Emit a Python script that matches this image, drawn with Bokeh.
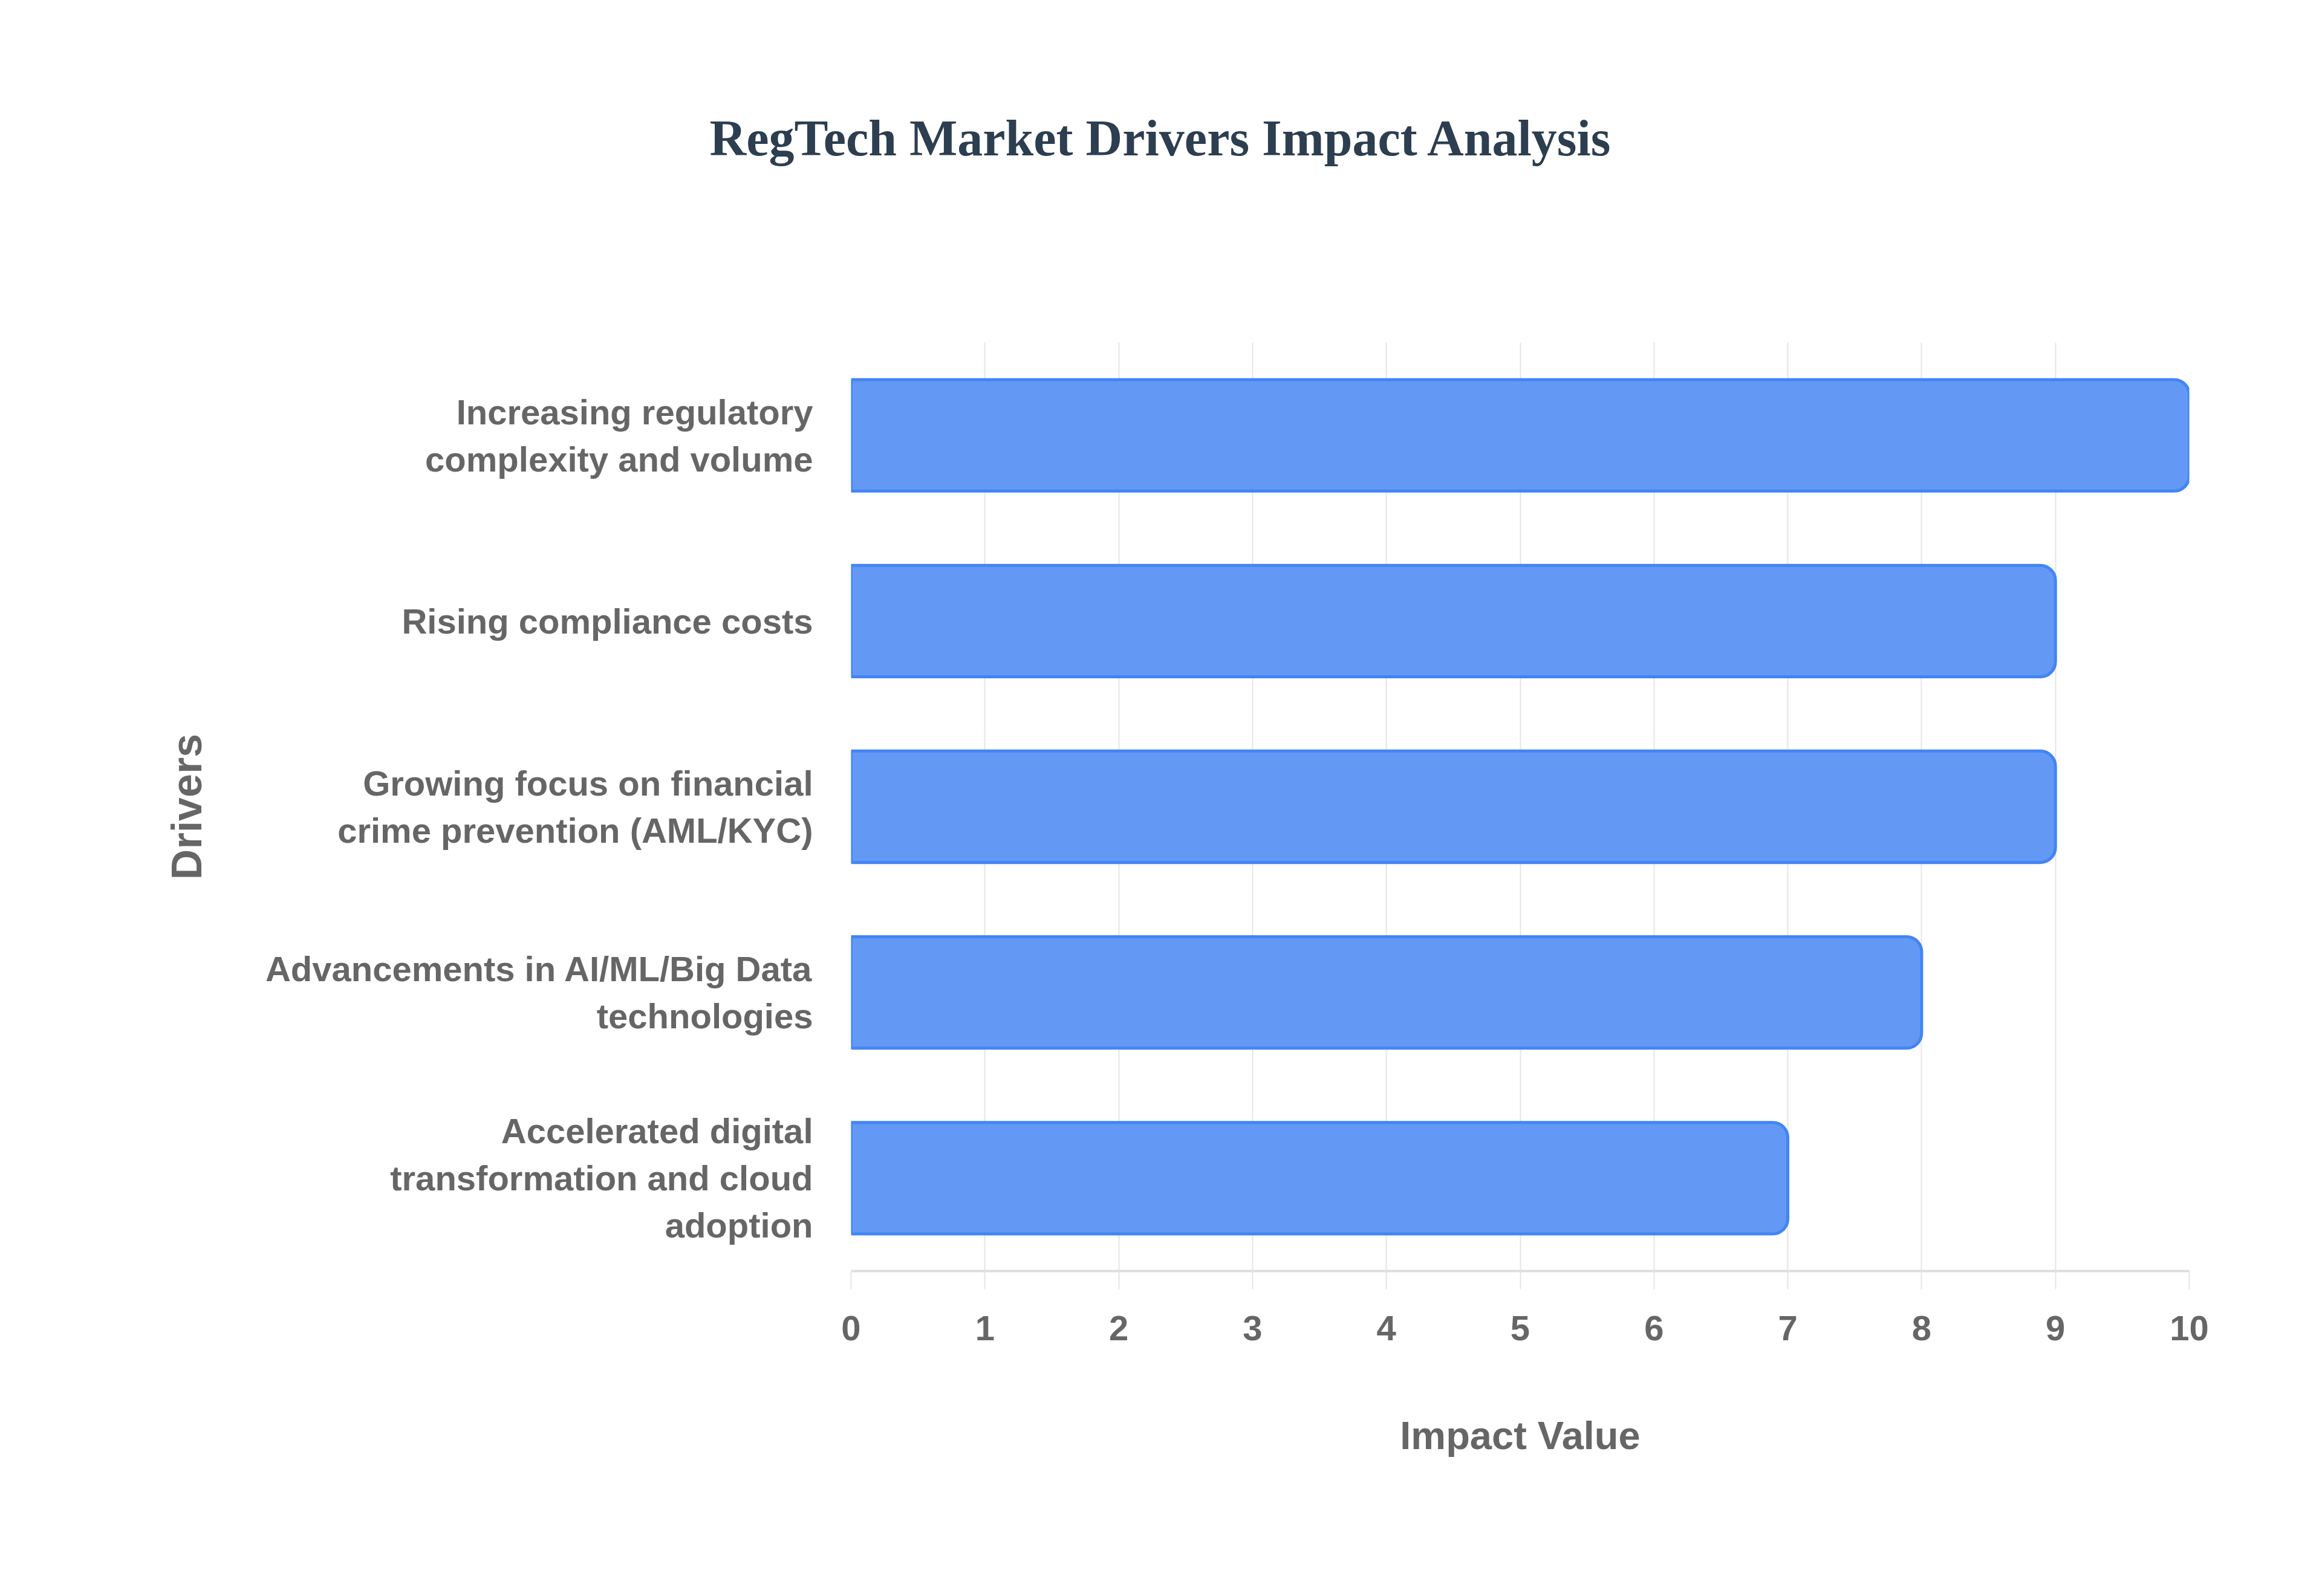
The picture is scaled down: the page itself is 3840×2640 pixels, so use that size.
from bokeh.plotting import figure
from bokeh.models import ColumnDataSource, Range1d, FactorRange, FixedTicker, LinearAxis
from bokeh.embed import file_html
from bokeh.resources import INLINE

drivers = [
    "Increasing regulatory\ncomplexity and volume",
    "Rising compliance costs",
    "Growing focus on financial\ncrime prevention (AML/KYC)",
    "Advancements in AI/ML/Big Data\ntechnologies",
    "Accelerated digital\ntransformation and cloud\nadoption",
]
impact = [10, 9, 9, 8, 7]
x_ticks = [0, 1, 2, 3, 4, 5, 6, 7, 8, 9, 10]

source = ColumnDataSource({'driver': drivers, 'impact': impact})

p = figure(y_range=FactorRange(factors=drivers[::-1]), x_range=Range1d(0, 10),
           width=3824, height=2620, output_backend="svg", toolbar_location=None,
           min_border_left=1407, min_border_right=204, min_border_top=566, min_border_bottom=518)
p.outline_line_color = None

xax = p.below[0]
xax.ticker = FixedTicker(ticks=x_ticks)

# hidden axis on top, only used as a gap between title and plot
gap = LinearAxis(ticker=FixedTicker(ticks=x_ticks), axis_line_color=None,
                 major_tick_line_color=None, minor_tick_line_color=None,
                 major_label_text_color=None, major_label_text_font_size="11px",
                 major_tick_out=290, major_tick_in=0)
p.add_layout(gap, "above")

p.title.text = "RegTech Market Drivers Impact Analysis"
p.title.align = "left"
p.title.offset = -234
p.title.text_font = "Liberation Serif"
p.title.text_font_style = "bold"
p.title.text_font_size = "84px"
p.title.text_color = "#2c3e50"
p.title.vertical_align = "top"
p.title.standoff = 0

p.hbar(y='driver', right='impact', left=0, height=0.6, source=source,
       fill_color="#6399f5", line_color="#4285f4", line_width=5,
       border_radius=(0, 25, 25, 0))

# x axis
xax.axis_label = "Impact Value"
xax.axis_label_text_font = "Liberation Sans"
xax.axis_label_text_font_style = "bold"
xax.axis_label_text_font_size = "65px"
xax.axis_label_text_color = "#666666"
xax.axis_label_standoff = 118
xax.major_label_text_font = "Liberation Sans"
xax.major_label_text_font_style = "bold"
xax.major_label_text_font_size = "58px"
xax.major_label_text_color = "#666666"
xax.major_label_standoff = 44
xax.axis_line_color = "#dddddd"
xax.axis_line_width = 4
xax.major_tick_line_color = "#e5e5e5"
xax.major_tick_line_width = 2
xax.major_tick_out = 30
xax.major_tick_in = 0
xax.minor_tick_line_color = None

# y axis
p.yaxis.axis_label = "Drivers"
p.yaxis.axis_label_text_font = "Liberation Sans"
p.yaxis.axis_label_text_font_style = "bold"
p.yaxis.axis_label_text_font_size = "70px"
p.yaxis.axis_label_text_color = "#666666"
p.yaxis.axis_label_standoff = 88
p.yaxis.major_label_text_font = "Liberation Sans"
p.yaxis.major_label_text_font_style = "bold"
p.yaxis.major_label_text_font_size = "58px"
p.yaxis.major_label_text_color = "#666666"
p.yaxis.major_label_standoff = 57
p.yaxis.axis_line_color = None
p.yaxis.major_tick_line_color = None

p.xgrid.grid_line_color = "#e5e5e5"
p.xgrid.grid_line_width = 2
p.ygrid.grid_line_color = None

open("out.html", "w").write(file_html(p, INLINE))
